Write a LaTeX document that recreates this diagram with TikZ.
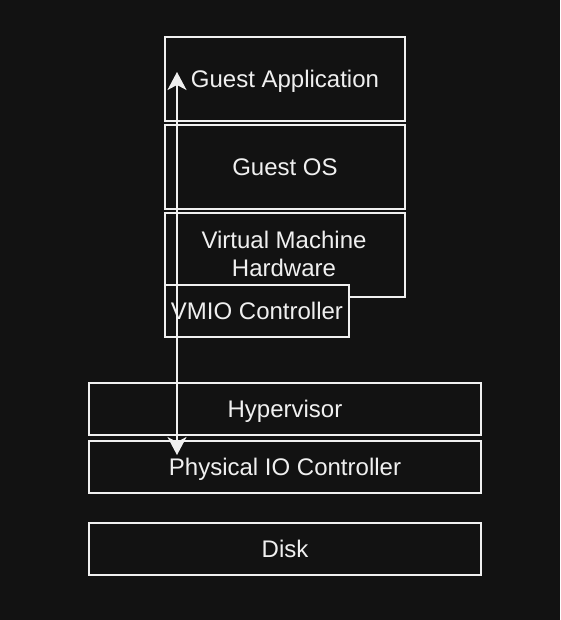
\documentclass[tikz,border=0pt]{standalone}
\usepackage{fontspec}
\setmainfont{Liberation Sans}
\usetikzlibrary{arrows.meta}
\definecolor{bg}{HTML}{121212}
\definecolor{fg}{HTML}{F0F0F0}
\begin{document}
\begin{tikzpicture}[x=1pt,y=-1pt,
  box/.style={draw=fg, fill=bg, line width=2pt, inner sep=0pt, text=fg,
    font=\fontsize{24}{28}\selectfont, align=center, text height=20pt, text depth=2.8pt},
  lbl/.style={text=fg, font=\fontsize{24}{28}\selectfont, align=center, inner sep=0pt},
  link/.style={draw=fg, line width=1.8pt, {Stealth[length=18pt,width=19pt,inset=5pt]}-{Stealth[length=18pt,width=19pt,inset=5pt]}}]
\fill[bg] (0,0) rectangle (560,620);
\useasboundingbox (0,0) rectangle (560,620);
\node[box, minimum width=240pt, minimum height=84pt] (gapp) at (285,79) {Guest Application};
\node[box, minimum width=240pt, minimum height=84pt] (gos) at (285,167) {Guest OS};
\node[box, minimum width=240pt, minimum height=84pt] (vmh) at (285,255) {};
\node[lbl] (vmhtext) at (284,254) {Virtual Machine\\Hardware};
\node[box, minimum width=184pt, minimum height=52pt] (vmio) at (257,311) {VMIO Controller};
\node[box, minimum width=392pt, minimum height=52pt] (hyp) at (285,409) {Hypervisor};
\node[box, minimum width=392pt, minimum height=52pt] (pio) at (285,467) {Physical IO Controller};
\node[box, minimum width=392pt, minimum height=52pt] (disk) at (285,549) {Disk};
\coordinate (top) at (177,72);
\coordinate (bot) at (177,455);
\draw[link] (bot) -- (top);
\end{tikzpicture}
\end{document}
